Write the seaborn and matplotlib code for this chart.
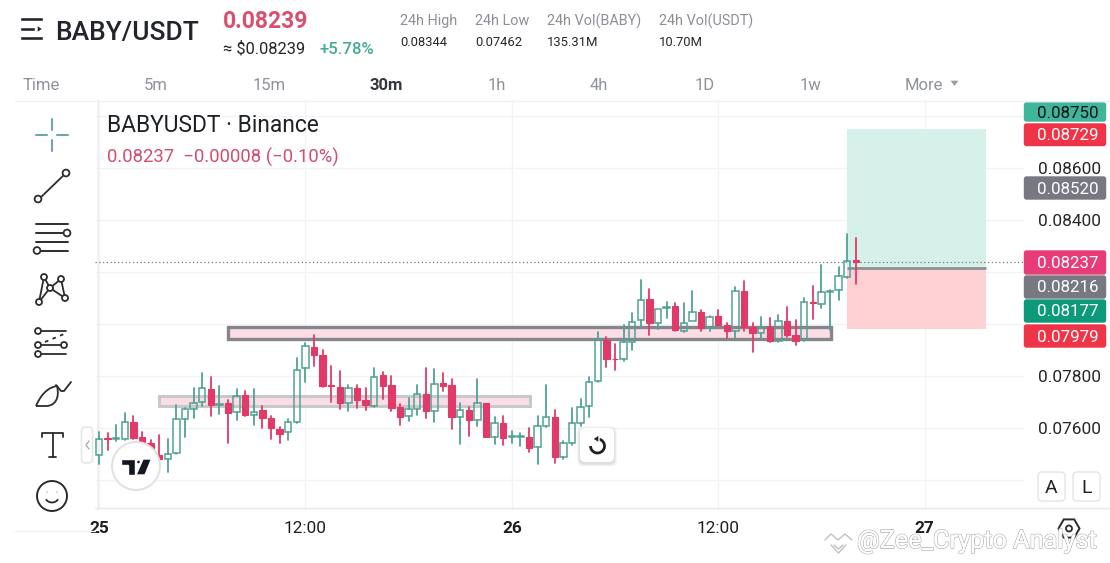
import numpy as np
import pandas as pd
import matplotlib
matplotlib.use("Agg")
import matplotlib.pyplot as plt
import matplotlib.patheffects as pe
from matplotlib.transforms import ScaledTranslation
import seaborn as sns
from matplotlib.patches import Rectangle, FancyBboxPatch, Circle, Polygon, PathPatch, RegularPolygon, Arc
from matplotlib.path import Path

PRICE_UNIT = 1e-5
opens = [7495,7560,7558,7558,7622,7564,7541,7497,7480,7503,
         7635,7672,7700,7749,7687,7695,7660,7727,7649,7668,
         7638,7597,7583,7622,7829,7913,7879,7765,7756,7695,
         7753,7708,7685,7804,7764,7679,7646,7674,7731,7667,
         7773,7765,7644,7668,7629,7695,7567,7618,7565,7565,
         7567,7526,7609,7641,7487,7541,7621,7683,7781,7938,
         7867,7864,7932,8014,8095,8003,8060,8068,7974,8013,
         8045,7986,8029,7995,7973,8128,7987,7967,7990,7936,
         8013,7956,7938,8085,8078,8123,8129,8179,8245]
closes = [7556,7558,7560,7622,7562,7544,7496,7482,7499,7633,
          7672,7697,7753,7690,7694,7659,7724,7650,7663,7640,
          7600,7578,7622,7823,7914,7881,7763,7763,7697,7755,
          7708,7687,7797,7763,7678,7644,7672,7731,7667,7768,
          7762,7644,7668,7629,7697,7567,7618,7563,7568,7568,
          7524,7608,7644,7487,7544,7618,7682,7777,7941,7864,
          7864,7929,8009,8091,8003,8056,8065,7977,8005,8045,
          7986,8028,7997,7973,8128,7987,7967,7987,7936,8013,
          7958,7936,8083,8081,8122,8127,8183,8241,8237]
highs = [7586,7579,7610,7656,7646,7583,7554,7573,7556,7688,
         7678,7753,7813,7797,7762,7708,7749,7744,7749,7686,
         7647,7603,7633,7871,7928,7958,7900,7838,7821,7765,
         7765,7753,7829,7814,7800,7692,7714,7765,7829,7826,
         7813,7787,7695,7679,7787,7697,7644,7646,7590,7582,
         7599,7646,7767,7669,7551,7676,7710,7795,7968,7951,
         7923,7996,8041,8169,8133,8056,8086,8079,8082,8128,
         8054,8031,8054,8005,8141,8165,8003,8026,8022,8033,
         8064,8015,8099,8146,8226,8129,8220,8345,8331]
lows = [7462,7515,7551,7554,7556,7538,7477,7480,7432,7500,
        7567,7637,7685,7646,7654,7544,7631,7647,7610,7599,
        7556,7544,7554,7618,7778,7838,7759,7701,7672,7667,
        7676,7669,7679,7712,7665,7612,7628,7650,7640,7624,
        7744,7595,7538,7569,7608,7564,7538,7535,7544,7531,
        7508,7462,7605,7464,7480,7533,7608,7641,7778,7836,
        7823,7859,7900,7990,7959,7982,8022,7973,7970,8010,
        7974,7974,7995,7946,7946,7974,7892,7944,7932,7932,
        7949,7918,7936,8018,8063,7977,8092,8176,8154]

tick_positions = [0, 24, 48, 72, 96]
tick_labels = ["25", "12:00", "26", "12:00", "27"]
price_ticks = [0.076, 0.078, 0.084, 0.086]
grid_prices = [0.074, 0.076, 0.078, 0.080, 0.082, 0.084, 0.086, 0.088]
tag_labels = ["0.08750", "0.08729", "0.08520", "0.08237", "0.08216", "0.08177", "0.07979"]
tag_colors = ["#3fb59c", "#ee3446", "#787883", "#e83c78", "#787883", "#0d9a7a", "#ee3446"]
tag_text = ["#111111", "white", "white", "white", "white", "white", "white"]
tag_tops = [102, 123, 176, 250, 275, 299, 324]
tag_bottoms = [122, 146.5, 200, 275, 299, 323, 348]
zone_high = (15.0, 85.1, 0.07942, 0.07988)
zone_low = (7.0, 50.1, 0.07685, 0.07723)
take_profit, entry, stop_loss, last_price = 0.0875, 0.08216, 0.07979, 0.08237
pos_start, pos_end = 87.0, 103.1

UP, DOWN = "#4fa394", "#e23a68"
sns.set_theme(style="white")
plt.rcParams["font.family"] = ["Roboto", "DejaVu Sans"]
W, H = 1110, 563
fig = plt.figure(figsize=(W/100, H/100), dpi=100, facecolor="white")

L, R, T, B = 95, 1024, 100, 510
ax = fig.add_axes([L/W, 1-B/H, (R-L)/W, (B-T)/H])
ax.set_xlim(-0.465, 107.56)
ax.set_ylim(0.072846, 0.088615)

o, c, h, l = [np.array(a)*PRICE_UNIT for a in (opens, closes, highs, lows)]
idx = np.arange(len(o))
top, bot = np.maximum(o, c), np.minimum(o, c)
rising = c >= o

ax.set_axisbelow(True)
for g in grid_prices:
    ax.axhline(g, color="#f2f3f4", lw=1, zorder=0)
for t in tick_positions:
    ax.axvline(t, color="#f2f3f4", lw=1, zorder=0)

# zones
for (x0, x1, y0, y1), ec, lw in ((zone_high, "#85858c", 2.4), (zone_low, "#c9c9cc", 2.2)):
    ax.add_patch(Rectangle((x0, y0), x1-x0, y1-y0, fc="#fbdde6", ec=ec, lw=lw, zorder=1))
# position tool
ax.add_patch(Rectangle((pos_start, entry), pos_end-pos_start, take_profit-entry, fc="#d5f1ea", ec="none", zorder=1))
ax.add_patch(Rectangle((pos_start, stop_loss), pos_end-pos_start, entry-stop_loss, fc="#fdd0d4", ec="none", zorder=1))
ax.plot([pos_start, pos_end], [entry, entry], color="#8b9295", lw=2, zorder=1.5, solid_capstyle="butt")
ax.axhline(last_price, color="#77777c", lw=0.9, ls=(0, (1, 2)), zorder=1.6)

# wicks
rows = []
for i in idx:
    d = "up" if rising[i] else "down"
    rows += [(i, h[i], d, 2*i), (i, top[i], d, 2*i), (i, bot[i], d, 2*i+1), (i, l[i], d, 2*i+1)]
wicks = pd.DataFrame(rows, columns=["i", "price", "dir", "seg"])
sns.lineplot(data=wicks, x="i", y="price", hue="dir", units="seg", estimator=None, sort=False,
             palette={"up": UP, "down": DOWN}, lw=1.3, legend=False, ax=ax, zorder=3)
# bodies
w = 0.76
ax.bar(idx[rising], (top-bot)[rising], bottom=bot[rising], width=w, fc="none", ec=UP, lw=1.1, zorder=4)
ax.bar(idx[~rising], (top-bot)[~rising], bottom=bot[~rising], width=w, fc=DOWN, ec=DOWN, lw=0.8, zorder=4)

ax.set_xlabel(""); ax.set_ylabel("")
ax.set_xticks(tick_positions)
ax.set_xticklabels(tick_labels, color="#1c1f24")
for lab in (ax.get_xticklabels()[0], ax.get_xticklabels()[2], ax.get_xticklabels()[4]):
    lab.set_fontweight("bold")
ax.yaxis.tick_right()
ax.set_yticks(price_ticks)
ax.set_yticklabels([f"{p:.5f}" for p in price_ticks], color="#1c1f24")
ax.tick_params(axis="both", length=0, labelsize=12.4)
ax.tick_params(axis="y", pad=10)
ax.tick_params(axis="x", pad=8)
for lab in ax.get_yticklabels():
    lab.set_transform(lab.get_transform() + ScaledTranslation(0, -1/100, fig.dpi_scale_trans))
for s in ("top", "bottom", "right"):
    ax.spines[s].set_visible(False)
ax.spines["left"].set_color("#eef0f2"); ax.spines["left"].set_position(("outward", -2))

# UI overlay in pixel coordinates
ui = fig.add_axes([0, 0, 1, 1], zorder=10)
ui.set_xlim(0, W); ui.set_ylim(H, 0); ui.axis("off"); ui.patch.set_alpha(0)

def txt(x, y, s, size, color="#1c1f24", weight="normal", ha="left", va="center", dy=2, **k):
    return ui.text(x, y+dy, s, fontsize=size, color=color, fontweight=weight, ha=ha, va=va, **k)

# header
INK = "#22252b"
ui.add_patch(Rectangle((20, 17), 23, 4, fc=INK))
ui.add_patch(Rectangle((20, 27), 15, 3.5, fc=INK))
ui.add_patch(Polygon([(37, 25), (43, 29), (37, 33)], fc=INK))
ui.add_patch(Rectangle((20, 36), 23, 4, fc=INK))
txt(55, 31, "BABY/USDT", 19, INK, "medium")
txt(223, 19, "0.08239", 16.5, "#d8506e", "bold")
txt(223, 47, "≈ $0.08239", 11.9, INK)
txt(320, 47, "+5.78%", 12, "#45ab92", "medium")
for x, a, b in ((400, "24h High", "0.08344"), (475, "24h Low", "0.07462"),
                (547, "24h Vol(BABY)", "135.31M"), (659, "24h Vol(USDT)", "10.70M")):
    txt(x, 19, a, 10.4, "#8b8f96")
    txt(x, 40, b, 9.4, "#26282d")
for x, s in ((23, "Time"), (144, "5m"), (253, "15m"), (488, "1h"), (590, "4h"), (695, "1D"), (800, "1w"), (905, "More")):
    txt(x, 84, s, 12, "#8e9299")
txt(370, 84, "30m", 12, "#33363b", "bold")
ui.add_patch(Polygon([(949, 80), (960, 80), (954.5, 87)], fc="#9a9da3"))
ui.plot([15, 1110], [101, 101], color="#eff0f1", lw=1)
ui.plot([95, 1110], [508, 508], color="#e8e9ea", lw=1)

txt(107, 124, "BABYUSDT · Binance", 16.4, "#1e2126")
txt(107, 155, "0.08237  −0.00008 (−0.10%)", 13.3, "#d14f6d")

# price tags
for s, col, tc, y0, y1 in zip(tag_labels, tag_colors, tag_text, tag_tops, tag_bottoms):
    ui.add_patch(FancyBboxPatch((1024.5, y0+1), 81, y1-y0-2, boxstyle="round,pad=0,rounding_size=2", fc=col, ec=col, lw=1))
    txt(1067.5, (y0+y1)/2, s, 12.2, tc, ha="center", dy=1)

# left tools
IC = "#2a2c30"
TEAL = "#6fa6a8"
for a in (((36, 135), (47, 135)), ((57, 135), (68, 135)), ((52, 119), (52, 130)), ((52, 140), (52, 151))):
    ui.plot(*zip(*a), color=TEAL, lw=1.5)
def dot(x, y, r=3.4):
    ui.add_patch(Circle((x, y), r, fc="white", ec=IC, lw=1.3, zorder=5))
ui.plot([38, 67], [200, 172], color=IC, lw=1.3); dot(38, 199); dot(66, 173)
for y, a, b in ((224, 36, 68), (233, 36, 67), (242, 36, 68), (250.5, 37, 68)):
    ui.plot([a, b], [y, y], color=IC, lw=1.4)
dot(67, 233); dot(37, 250.5)
pts = {"a": (44, 277), "b": (61, 279), "c": (50, 288), "d": (39, 302), "e": (65, 298)}
for p, q in ("ad", "dc", "ac", "cb", "be", "ce"):
    ui.plot(*zip(pts[p], pts[q]), color=IC, lw=1.3)
for p in pts.values():
    dot(*p, r=3)
for y, b in ((331, 66), (345, 64), (354, 66)):
    ui.plot([38, b], [y, y], color=IC, lw=1.3)
ui.plot([45, 64], [342, 334], color=IC, lw=1.3, ls=(0, (2, 2.5)))
for p in ((38, 331), (38, 345), (38, 354), (64, 345)):
    dot(*p, r=3)
ui.add_patch(PathPatch(Path([(36, 406), (42, 392), (50, 387), (57, 386), (60, 398), (55, 406), (46, 406), (36, 406)],
                            [1, 4, 4, 4, 4, 4, 2, 2]), fc="none", ec=IC, lw=1.3))
ui.plot([56, 61, 64, 71], [385, 391, 391, 382], color=IC, lw=1.3)
ui.plot([42, 42, 63, 63], [437, 433, 433, 437], color=IC, lw=1.3)
ui.plot([52.5, 52.5], [433, 457], color=IC, lw=1.3); ui.plot([49, 56], [457, 457], color=IC, lw=1.3)
ui.add_patch(Circle((52, 496), 15, fc="none", ec=IC, lw=1.4))
ui.add_patch(Circle((47, 492), 1.2, fc=IC)); ui.add_patch(Circle((57, 492), 1.2, fc=IC))
ui.add_patch(Arc((52, 497), 13, 11, theta1=20, theta2=160, ec=IC, lw=1.3))
ui.plot([15, 95], [531, 531], color="#f1f2f3", lw=1)

# collapse handle
ui.add_patch(FancyBboxPatch((81.5, 427), 11, 36, boxstyle="round,pad=0,rounding_size=4", fc="white", ec="#e6e7e8", lw=1.2))
ui.plot([89, 86, 89], [441, 445, 449], color="#a9abae", lw=1)

# logo
ui.add_patch(Circle((136, 466), 24, fc="white", ec="#e2e2e2", lw=1.5))
ui.add_patch(Polygon([(120.5, 459), (134.5, 459), (134.5, 475), (127.5, 475), (127.5, 465), (120.5, 465)], fc="#131722"))
ui.add_patch(Circle((138.5, 462), 2, fc="#131722"))
ui.add_patch(Polygon([(143, 459), (151.5, 459), (145, 475), (136, 475)], fc="#131722"))

# reset button
for grow, a in ((3, .12), (2, .18), (1, .25)):
    ui.add_patch(FancyBboxPatch((580-grow, 428-grow+1.5), 34+2*grow, 34+2*grow, boxstyle="round,pad=0,rounding_size=6",
                                fc="#bbbbbb", ec="none", alpha=a))
ui.add_patch(FancyBboxPatch((580, 428), 34, 34, boxstyle="round,pad=0,rounding_size=5", fc="white", ec="none"))
ui.add_patch(Arc((597.5, 446), 14, 14, theta1=-90, theta2=180, ec="#222222", lw=2))
ui.add_patch(Polygon([(599, 434.5), (592.5, 439), (599, 443)], fc="#222222"))

# A / L
for x, s in ((1038, "A"), (1073, "L")):
    ui.add_patch(FancyBboxPatch((x, 472), 27, 29, boxstyle="round,pad=0,rounding_size=4", fc="white", ec="#e4e4e6", lw=1))
    txt(x+13.5, 486, s, 14, "#1e2126", ha="center")
ui.add_patch(RegularPolygon((1069, 528.5), 6, radius=10.5, orientation=np.pi/6, fc="none", ec=IC, lw=1.4))
ui.add_patch(Circle((1069, 528.5), 3, fc="none", ec=IC, lw=1.3))

# watermark
wm = txt(857, 540, "@Zee_Crypto Analyst", 18.2, "white", dy=1)
wm.set_path_effects([pe.withStroke(linewidth=1.1, foreground="#b4b4b4"), pe.Normal()])
for seq in (((825, 540), (831, 534), (838, 540), (845, 534), (852, 540)),
            ((831, 545), (838.5, 553), (846, 545)),
            ((834, 545), (838.5, 549), (843, 545))):
    ui.plot(*zip(*seq), color="#c2c2c2", lw=1)

fig.savefig("out.png", dpi=100, facecolor="white")
